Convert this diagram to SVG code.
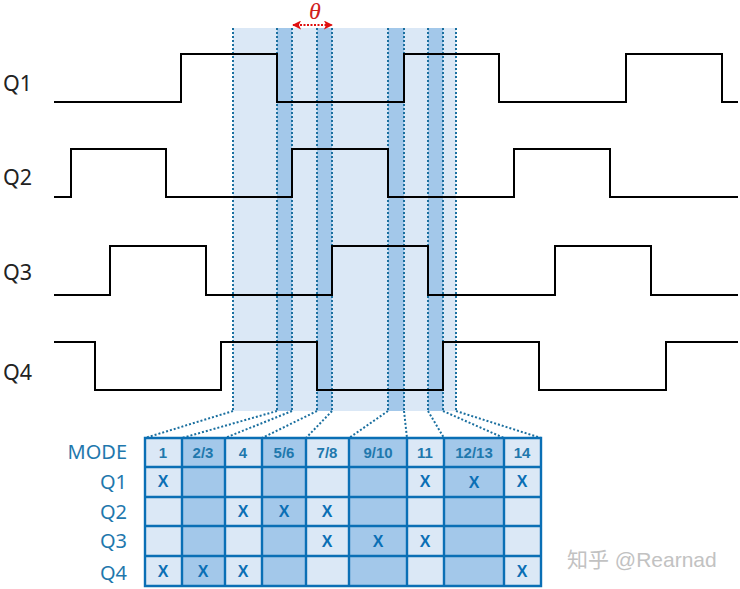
<svg xmlns="http://www.w3.org/2000/svg" width="740" height="589" viewBox="0 0 740 589">
<defs>
<marker id="ah" viewBox="0 0 10 10" refX="9" refY="5" markerWidth="9" markerHeight="9" markerUnits="userSpaceOnUse" orient="auto-start-reverse"><path d="M0 0L10 5L0 10L2.5 5z" fill="#e01010"/></marker>
</defs>
<style>
.lt{fill:#dbe8f6}.dk{fill:#a3c8ea}
.dot{stroke:#1a6f9f;stroke-width:2;stroke-dasharray:2 2;fill:none}
.wave{stroke:#000;stroke-width:2;fill:none}
.grid{stroke:#0a6fb5;stroke-width:2.4;fill:none}
.lab{font-family:"Noto Sans","Liberation Sans",sans-serif;font-size:21.5px;fill:#222}
.tl{font-family:"Noto Sans","Liberation Sans",sans-serif;fill:#1f78ad;text-anchor:end}
.h{font-family:"Liberation Sans",Arial,sans-serif;font-size:15px;font-weight:bold;fill:#1f78ad;text-anchor:middle}
.x{font-family:"Liberation Sans",Arial,sans-serif;font-size:16px;font-weight:bold;fill:#0a6fb5;text-anchor:middle}
</style>
<g id="bands">
<rect class="lt" x="233" y="28" width="223" height="383"/>
<rect class="dk" x="277" y="28" width="15" height="383"/>
<rect class="dk" x="317" y="28" width="15" height="383"/>
<rect class="dk" x="388" y="28" width="16" height="383"/>
<rect class="dk" x="428" y="28" width="15" height="383"/>
</g>
<g id="connectors">
<path class="dot" d="M233 28V411M277 28V411M292 28V411M317 28V411M332 28V411M388 28V411M404 28V411M428 28V411M443 28V411M456 28V411"/>
<path class="dot" d="M233 411L145 438M277 411L182 438M292 411L225 438M317 411L262 438M332 411L306 438M388 411L349 438M404 411L407 438M428 411L444 438M443 411L504 438M456 411L541 438"/>
<line x1="293" y1="25" x2="332" y2="25" stroke="#e01010" stroke-width="1.8" stroke-dasharray="2 1.5" marker-start="url(#ah)" marker-end="url(#ah)"/>
</g>
<g id="wave-q1"><path class="wave" d="M54 102H181V54H277V102H404V54H499V102H626V54H722V102H738"/><text class="lab" x="3" y="91">Q1</text></g>
<g id="wave-q2"><path class="wave" d="M54 197H71V149H166V197H292V149H388V197H514V149H610V197H738"/><text class="lab" x="3" y="185">Q2</text></g>
<g id="wave-q3"><path class="wave" d="M54 295H110V246H206V295H332V246H428V295H555V246H651V295H738"/><text class="lab" x="3" y="280">Q3</text></g>
<g id="wave-q4"><path class="wave" d="M54 342H95V390H221V342H317V390H443V342H539V390H666V342H738"/><text class="lab" x="3" y="380">Q4</text></g>
<text x="315" y="19" font-family="Liberation Serif,serif" font-size="24" font-style="italic" fill="#d0201c" text-anchor="middle">θ</text>
<g id="table">
<rect class="lt" x="145" y="438" width="396" height="148"/>
<rect class="dk" x="182" y="438" width="43" height="148"/>
<rect class="dk" x="262" y="438" width="44" height="148"/>
<rect class="dk" x="349" y="438" width="58" height="148"/>
<rect class="dk" x="444" y="438" width="60" height="148"/>
<path class="grid" d="M145 438H541V586H145ZM145 467H541M145 497H541M145 526H541M145 556H541M182 438V586M225 438V586M262 438V586M306 438V586M349 438V586M407 438V586M444 438V586M504 438V586"/>
<g font-size="20"><text class="tl" x="127" y="459">MODE</text><text class="tl" x="127" y="489">Q1</text><text class="tl" x="127" y="519">Q2</text><text class="tl" x="127" y="548">Q3</text><text class="tl" x="127" y="580">Q4</text></g>
<text class="h" x="163" y="458">1</text><text class="h" x="203" y="458">2/3</text><text class="h" x="243" y="458">4</text><text class="h" x="284" y="458">5/6</text><text class="h" x="327" y="458">7/8</text><text class="h" x="378" y="458">9/10</text><text class="h" x="425" y="458">11</text><text class="h" x="474" y="458">12/13</text><text class="h" x="522" y="458">14</text>
<text class="x" x="163" y="487">X</text><text class="x" x="425" y="487">X</text><text class="x" x="474" y="488">X</text><text class="x" x="522" y="487">X</text>
<text class="x" x="243" y="517">X</text><text class="x" x="284" y="517">X</text><text class="x" x="327" y="517">X</text>
<text class="x" x="327" y="547">X</text><text class="x" x="378" y="547">X</text><text class="x" x="425" y="547">X</text>
<text class="x" x="163" y="577">X</text><text class="x" x="203" y="577">X</text><text class="x" x="243" y="577">X</text><text class="x" x="522" y="577">X</text>
</g>
<text x="567" y="567" font-family="Liberation Sans,Noto Sans CJK SC,sans-serif" font-size="21" fill="#c2c2c2">知乎 @Rearnad</text>
</svg>
